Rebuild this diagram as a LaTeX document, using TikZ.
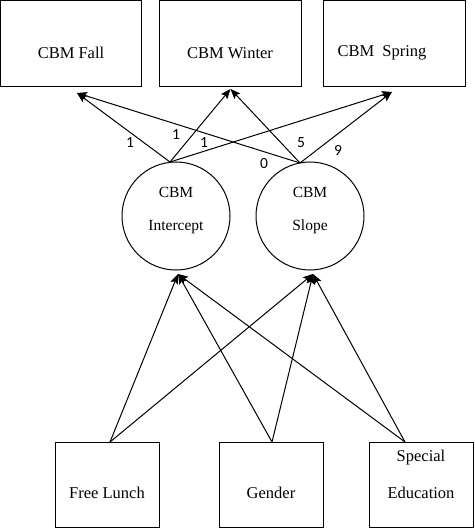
\documentclass[tikz,border=0pt]{standalone}
\usepackage{fontspec}
\setmainfont{Liberation Serif}
\newfontfamily\lblfont{Carlito}
\usetikzlibrary{arrows.meta}
\begin{document}
\begin{tikzpicture}[x=1pt,y=-1pt,
  box/.style={draw, line width=1pt, rectangle, inner sep=0pt},
  txt/.style={font=\fontsize{16.5}{18}\selectfont, inner sep=0pt},
  ctxt/.style={font=\fontsize{15.5}{17}\selectfont, inner sep=0pt},
  lat/.style={draw, line width=1pt, circle, minimum size=108pt, inner sep=0pt},
  lbl/.style={font=\lblfont\fontsize{15.5}{16}\selectfont, inner sep=0pt},
  arr/.style={line width=1pt, -{Stealth[length=10pt,width=8pt,inset=2pt]}}]
\useasboundingbox (0,0) rectangle (474,529);
% top boxes
\node[box, minimum width=141pt, minimum height=86pt] (fall) at (71,44) {};
\node[box, minimum width=142pt, minimum height=86pt] (winter) at (230,44) {};
\node[box, minimum width=142pt, minimum height=86pt] (spring) at (394,44) {};
\node[txt] (fallt) at (71,53) {CBM Fall};
\node[txt] (wintert) at (230,53) {CBM Winter};
\node[txt] (springt) at (382,53) {CBM\ \ Spring};
% latent
\node[lat] (int) at (176,216) {};
\node[lat] (slo) at (310,216) {};
\node[ctxt] (intt1) at (176,192) {CBM};
\node[ctxt] (intt2) at (176,227) {Intercept};
\node[ctxt] (slot1) at (310,192) {CBM};
\node[ctxt] (slot2) at (310,227) {Slope};
% bottom boxes
\node[box, minimum width=104pt, minimum height=85pt] (fl) at (107,484.5) {};
\node[box, minimum width=104pt, minimum height=85pt] (gen) at (271,484.5) {};
\node[box, minimum width=104pt, minimum height=85pt] (sped) at (421,484.5) {};
\node[txt] (flt) at (107,493) {Free Lunch};
\node[txt] (gent) at (271,493) {Gender};
\node[txt] (spedt1) at (421,458) {Special};
\node[txt] (spedt2) at (421,493) {Education};
% connection points
\coordinate (fallin) at (77,93);
\coordinate (winin) at (230.5,89);
\coordinate (sprin) at (392,92);
\coordinate (intap) at (170,162);
\coordinate (sloap) at (300,163);
\coordinate (intbot) at (178,274);
\coordinate (slobot) at (313,274);
\coordinate (flt0) at (110,442);
\coordinate (gent0) at (272,442);
\coordinate (spedt0) at (405,442);
% loadings
\draw[arr] (intap) -- (fallin);
\draw[arr] (intap) -- (winin);
\draw[arr] (intap) -- (sprin);
\draw[arr] (sloap) -- (fallin);
\draw[arr] (sloap) -- (winin);
\draw[arr] (sloap) -- (sprin);
\node[lbl] (l1) at (130,143) {1};
\node[lbl] (l2) at (176,135) {1};
\node[lbl] (l3) at (204,143) {1};
\node[lbl] (l4) at (264,164) {0};
\node[lbl] (l5) at (301,143) {5};
\node[lbl] (l6) at (338,150) {9};
% covariates
\draw[arr] (flt0) -- (intbot);
\draw[arr] (flt0) -- (slobot);
\draw[arr] (gent0) -- (intbot);
\draw[arr] (gent0) -- (slobot);
\draw[arr] (spedt0) -- (intbot);
\draw[arr] (spedt0) -- (slobot);
\end{tikzpicture}
\end{document}
